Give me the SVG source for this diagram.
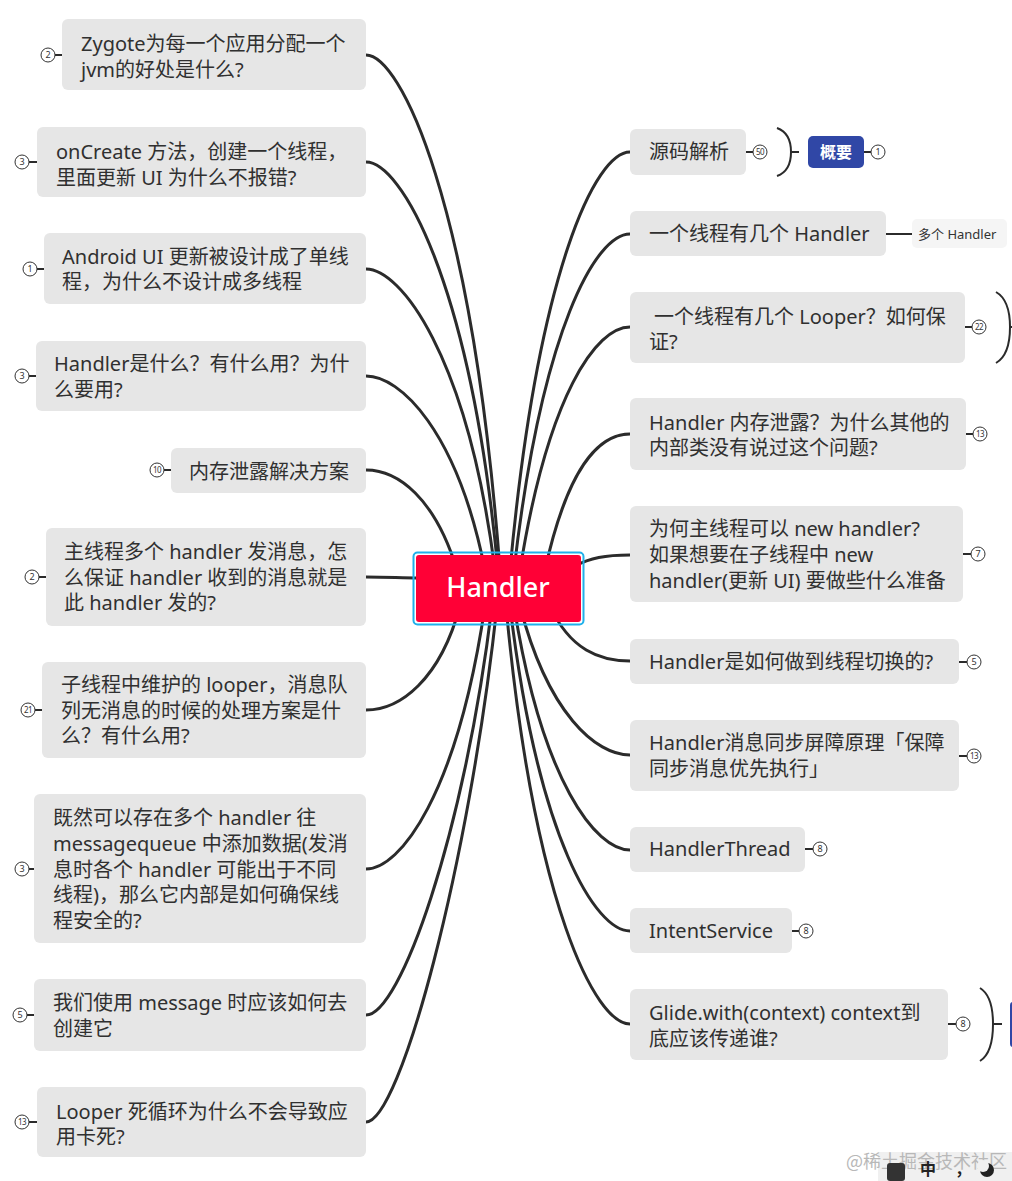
<svg xmlns="http://www.w3.org/2000/svg" width="1012" height="1181" viewBox="0 0 1012 1181">
<style>
.box{fill:#e6e6e6}
.t{font-family:"Noto Sans","Noto Sans CJK SC",sans-serif;font-size:20px;fill:#303030}
.c{fill:none;stroke:#2b2b2b;stroke-width:3;stroke-linecap:round}
.tick{stroke:#2b2b2b;stroke-width:2}
.bd{fill:#fff;stroke:#333;stroke-width:1}
.bn{font-family:"Noto Sans",sans-serif;font-size:9px;fill:#333;text-anchor:middle}
.bn2{font-family:"Noto Sans",sans-serif;font-size:8px;fill:#333;text-anchor:middle;letter-spacing:-0.5px}
.br{fill:none;stroke:#2b2b2b;stroke-width:2}
</style>
<rect width="1012" height="1181" fill="#fff"/>
<g id="connectors">
<path class="c" d="M366,55 C400,55 472,199 500,570"/>
<path class="c" d="M366,162 C400,162 470,277 498,570"/>
<path class="c" d="M366,269 C400,269 467,353 495,570"/>
<path class="c" d="M366,376 C400,376 457,430 485,570"/>
<path class="c" d="M366,470 C398,470 435,498 457,570"/>
<path class="c" d="M366,577 C390,577 400,578 420,578"/>
<path class="c" d="M366,710 C400,710 440,680 460,606"/>
<path class="c" d="M366,869 C400,869 457,795 485,606"/>
<path class="c" d="M366,1015 C400,1015 464,836 492,606"/>
<path class="c" d="M366,1122 C400,1122 469,866 497,606"/>
<path class="c" d="M630,152 C596,152 538,268 510,570"/>
<path class="c" d="M630,234 C596,234 542,328 514,570"/>
<path class="c" d="M630,327 C596,327 548,395 520,570"/>
<path class="c" d="M630,434 C598,434 567,470 545,570"/>
<path class="c" d="M630,555 C605,555 590,558 575,566"/>
<path class="c" d="M630,661 C600,661 570,650 550,606"/>
<path class="c" d="M630,755 C596,755 548,714 520,606"/>
<path class="c" d="M630,850 C596,850 542,782 514,606"/>
<path class="c" d="M630,931 C596,931 538,840 510,606"/>
<path class="c" d="M630,1024 C596,1024 534,907 506,606"/>
</g>
<g id="root">
<rect x="413.5" y="552.5" width="170" height="72" rx="4" fill="none" stroke="#20b0ea" stroke-width="2"/>
<rect x="416" y="555" width="165" height="67" rx="3" fill="#ff0036"/>
<text x="498" y="597" text-anchor="middle" font-family="Noto Sans,sans-serif" font-size="27" font-weight="500" fill="#fff">Handler</text>
</g>
<g id="n-zygote">
<rect class="box" x="62" y="19" width="304" height="71" rx="6"/>
<text class="t" x="81" y="51">Zygote为每一个应用分配一个</text>
<text class="t" x="81" y="76.5">jvm的好处是什么?</text>
<line class="tick" x1="55" y1="55" x2="62" y2="55"/><circle class="bd" cx="48" cy="55" r="7"/><text class="bn" x="48" y="58.2">2</text>
</g>
<g id="n-oncreate">
<rect class="box" x="37" y="127" width="329" height="70" rx="6"/>
<text class="t" x="56" y="159">onCreate 方法，创建一个线程，</text>
<text class="t" x="56" y="185">里面更新 UI 为什么不报错?</text>
<line class="tick" x1="29" y1="162" x2="37" y2="162"/><circle class="bd" cx="22" cy="162" r="7"/><text class="bn" x="22" y="165.2">3</text>
</g>
<g id="n-android">
<rect class="box" x="44" y="233" width="322" height="71" rx="6"/>
<text class="t" x="62" y="264">Android UI 更新被设计成了单线</text>
<text class="t" x="62" y="289">程，为什么不设计成多线程</text>
<line class="tick" x1="37" y1="269" x2="44" y2="269"/><circle class="bd" cx="30" cy="269" r="7"/><text class="bn" x="30" y="272.2">1</text>
</g>
<g id="n-what">
<rect class="box" x="36" y="341" width="330" height="70" rx="6"/>
<text class="t" x="54" y="371">Handler是什么？有什么用？为什</text>
<text class="t" x="54" y="397">么要用?</text>
<line class="tick" x1="29" y1="376" x2="36" y2="376"/><circle class="bd" cx="22" cy="376" r="7"/><text class="bn" x="22" y="379.2">3</text>
</g>
<g id="n-leakfix">
<rect class="box" x="171" y="448" width="195" height="45" rx="6"/>
<text class="t" x="189" y="479">内存泄露解决方案</text>
<line class="tick" x1="164" y1="470" x2="171" y2="470"/><circle class="bd" cx="157" cy="470" r="7"/><text class="bn2" x="157" y="472.8">10</text>
</g>
<g id="n-main-multi">
<rect class="box" x="46" y="528" width="320" height="98" rx="6"/>
<text class="t" x="64" y="559">主线程多个 handler 发消息，怎</text>
<text class="t" x="64" y="584.5">么保证 handler 收到的消息就是</text>
<text class="t" x="64" y="610">此 handler 发的?</text>
<line class="tick" x1="39" y1="577" x2="46" y2="577"/><circle class="bd" cx="32" cy="577" r="7"/><text class="bn" x="32" y="580.2">2</text>
</g>
<g id="n-sub-looper">
<rect class="box" x="42" y="662" width="324" height="96" rx="6"/>
<text class="t" x="61" y="692">子线程中维护的 looper，消息队</text>
<text class="t" x="61" y="718">列无消息的时候的处理方案是什</text>
<text class="t" x="61" y="743">么？有什么用?</text>
<line class="tick" x1="35" y1="710" x2="42" y2="710"/><circle class="bd" cx="28" cy="710" r="7"/><text class="bn2" x="28" y="712.8">21</text>
</g>
<g id="n-safe">
<rect class="box" x="34" y="794" width="332" height="149" rx="6"/>
<text class="t" x="53" y="825">既然可以存在多个 handler 往</text>
<text class="t" x="53" y="851">messagequeue 中添加数据(发消</text>
<text class="t" x="53" y="876.5">息时各个 handler 可能出于不同</text>
<text class="t" x="53" y="902">线程)，那么它内部是如何确保线</text>
<text class="t" x="53" y="928">程安全的?</text>
<line class="tick" x1="29" y1="869" x2="34" y2="869"/><circle class="bd" cx="22" cy="869" r="7"/><text class="bn" x="22" y="872.2">3</text>
</g>
<g id="n-message">
<rect class="box" x="34" y="979" width="332" height="72" rx="6"/>
<text class="t" x="53" y="1010">我们使用 message 时应该如何去</text>
<text class="t" x="53" y="1036">创建它</text>
<line class="tick" x1="27" y1="1015" x2="34" y2="1015"/><circle class="bd" cx="20" cy="1015" r="7"/><text class="bn" x="20" y="1018.2">5</text>
</g>
<g id="n-dead-loop">
<rect class="box" x="37" y="1087" width="329" height="70" rx="6"/>
<text class="t" x="56" y="1119">Looper 死循环为什么不会导致应</text>
<text class="t" x="56" y="1144">用卡死?</text>
<line class="tick" x1="29" y1="1122" x2="37" y2="1122"/><circle class="bd" cx="22" cy="1122" r="7"/><text class="bn2" x="22" y="1124.8">13</text>
</g>
<g id="n-source">
<rect class="box" x="630" y="129" width="116" height="46" rx="6"/>
<text class="t" x="649" y="159">源码解析</text>
<line class="tick" x1="746" y1="152" x2="753" y2="152"/><circle class="bd" cx="760" cy="152" r="7"/><text class="bn2" x="760" y="154.8">50</text>
<path class="br" d="M777,128 Q791,133 791,152 Q791,171 777,176"/>
<line class="tick" x1="791" y1="152" x2="799" y2="152"/>
</g>
<g id="n-summary">
<rect x="808" y="136" width="56" height="32" rx="5" fill="#3047a6"/>
<text x="836" y="157.5" text-anchor="middle" font-family="Noto Sans CJK SC,sans-serif" font-size="16" font-weight="bold" fill="#fff">概要</text>
<line class="tick" x1="864" y1="152" x2="871" y2="152"/><circle class="bd" cx="878" cy="152" r="7"/><text class="bn" x="878" y="155.2">1</text>
</g>
<g id="n-handler-count">
<rect class="box" x="630" y="211" width="256" height="45" rx="6"/>
<text class="t" x="649" y="241">一个线程有几个 Handler</text>
<line class="tick" x1="886" y1="234" x2="912" y2="234"/>
</g>
<g id="n-multi-handler">
<rect x="912" y="219" width="95" height="29" rx="5" fill="#f5f5f5"/>
<text x="918" y="238.5" font-family="Noto Sans,Noto Sans CJK SC,sans-serif" font-size="13" fill="#333">多个 Handler</text>
</g>
<g id="n-looper-count">
<rect class="box" x="630" y="292" width="335" height="71" rx="6"/>
<text class="t" x="654" y="324">一个线程有几个 Looper？如何保</text>
<text class="t" x="649" y="349">证?</text>
<line class="tick" x1="965" y1="327" x2="972" y2="327"/><circle class="bd" cx="979" cy="327" r="7"/><text class="bn2" x="979" y="329.8">22</text>
<path class="br" d="M996,292 Q1010,300 1010,327 Q1010,355 996,363"/>
<line class="tick" x1="1010" y1="327" x2="1018" y2="327"/>
</g>
<g id="n-leak">
<rect class="box" x="630" y="398" width="336" height="72" rx="6"/>
<text class="t" x="649" y="430">Handler 内存泄露？为什么其他的</text>
<text class="t" x="649" y="455">内部类没有说过这个问题?</text>
<line class="tick" x1="966" y1="434" x2="973" y2="434"/><circle class="bd" cx="980" cy="434" r="7"/><text class="bn2" x="980" y="436.8">13</text>
</g>
<g id="n-new-handler">
<rect class="box" x="630" y="506" width="333" height="96" rx="6"/>
<text class="t" x="649" y="536">为何主线程可以 new handler?</text>
<text class="t" x="649" y="562">如果想要在子线程中 new</text>
<text class="t" x="649" y="588">handler(更新 UI) 要做些什么准备</text>
<line class="tick" x1="963" y1="554" x2="971" y2="554"/><circle class="bd" cx="978" cy="554" r="7"/><text class="bn" x="978" y="557.2">7</text>
</g>
<g id="n-switch">
<rect class="box" x="630" y="639" width="329" height="45" rx="6"/>
<text class="t" x="649" y="669">Handler是如何做到线程切换的?</text>
<line class="tick" x1="959" y1="662" x2="967" y2="662"/><circle class="bd" cx="974" cy="662" r="7"/><text class="bn" x="974" y="665.2">5</text>
</g>
<g id="n-barrier">
<rect class="box" x="630" y="720" width="329" height="71" rx="6"/>
<text class="t" x="649" y="750">Handler消息同步屏障原理「保障</text>
<text class="t" x="649" y="776">同步消息优先执行」</text>
<line class="tick" x1="959" y1="756" x2="967" y2="756"/><circle class="bd" cx="974" cy="756" r="7"/><text class="bn2" x="974" y="758.8">13</text>
</g>
<g id="n-handlerthread">
<rect class="box" x="630" y="827" width="175" height="45" rx="6"/>
<text class="t" x="649" y="856">HandlerThread</text>
<line class="tick" x1="805" y1="849" x2="813" y2="849"/><circle class="bd" cx="820" cy="849" r="7"/><text class="bn" x="820" y="852.2">8</text>
</g>
<g id="n-intentservice">
<rect class="box" x="630" y="908" width="162" height="45" rx="6"/>
<text class="t" x="649" y="938">IntentService</text>
<line class="tick" x1="792" y1="931" x2="799" y2="931"/><circle class="bd" cx="806" cy="931" r="7"/><text class="bn" x="806" y="934.2">8</text>
</g>
<g id="n-glide">
<rect class="box" x="630" y="989" width="318" height="71" rx="6"/>
<text class="t" x="649" y="1020">Glide.with(context) context到</text>
<text class="t" x="649" y="1046">底应该传递谁?</text>
<line class="tick" x1="948" y1="1024" x2="956" y2="1024"/><circle class="bd" cx="963" cy="1024" r="7"/><text class="bn" x="963" y="1027.2">8</text>
<path class="br" d="M980,988 Q993,996 993,1024 Q993,1053 980,1061"/>
<line class="tick" x1="993" y1="1024" x2="1002" y2="1024"/>
<rect x="1010" y="1002" width="20" height="45" rx="3" fill="#3047a6"/>
</g>
<g id="overlay">
<rect x="878" y="1152" width="140" height="30" fill="#f0f0f0"/>
<text x="846" y="1168" font-family="Noto Sans CJK SC,sans-serif" font-size="18" fill="#b8b8b8">@稀土掘金技术社区</text>
<rect x="887" y="1163" width="18" height="18" rx="3" fill="#333"/>
<text x="928" y="1175" text-anchor="middle" font-family="Noto Sans CJK SC,sans-serif" font-size="16" font-weight="bold" fill="#222">中</text>
<text x="963" y="1175" text-anchor="middle" font-family="Noto Sans CJK SC,sans-serif" font-size="16" font-weight="bold" fill="#222">，</text>
<circle cx="987" cy="1170" r="7" fill="#222"/><circle cx="983" cy="1166" r="6" fill="#f0f0f0"/>
</g>
</svg>
